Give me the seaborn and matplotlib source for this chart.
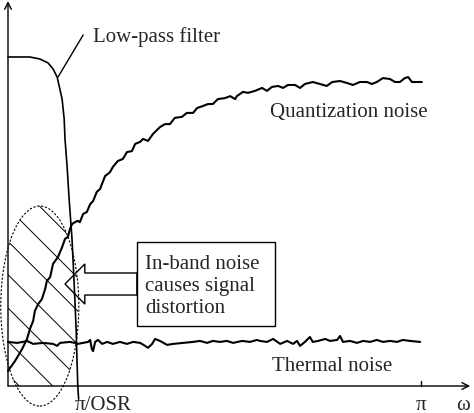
import numpy as np
import pandas as pd
import matplotlib
matplotlib.use("Agg")
import matplotlib.pyplot as plt
import seaborn as sns
from matplotlib.patches import Ellipse, Rectangle, FancyArrow

# --- Curve data (omega/pi, normalised magnitude) ---
filt_w = [0.000, 0.053, 0.077, 0.097, 0.109, 0.119, 0.131, 0.136, 0.138, 0.143,
          0.148, 0.155, 0.160, 0.165, 0.167, 0.169, 0.171]
filt_mag = [1.000, 1.000, 0.994, 0.982, 0.964, 0.939, 0.872, 0.812, 0.751, 0.669,
            0.568, 0.447, 0.316, 0.173, 0.082, 0.000, -0.040]

quant_w = [0.000, 0.017, 0.034, 0.046, 0.053, 0.061, 0.065, 0.073, 0.082, 0.090,
           0.094, 0.102, 0.109, 0.121, 0.131, 0.138, 0.145, 0.150, 0.155, 0.162,
           0.169, 0.174, 0.182, 0.191, 0.199, 0.206, 0.215, 0.223, 0.235, 0.247,
           0.254, 0.266, 0.278, 0.288, 0.300, 0.308, 0.320, 0.327, 0.339, 0.351,
           0.368, 0.380, 0.392, 0.404, 0.421, 0.433, 0.448, 0.458, 0.472, 0.484,
           0.496, 0.508, 0.525, 0.538, 0.550, 0.554, 0.569, 0.581, 0.598, 0.615,
           0.627, 0.639, 0.654, 0.666, 0.678, 0.695, 0.707, 0.719, 0.738, 0.755,
           0.772, 0.785, 0.804, 0.821, 0.835, 0.852, 0.869, 0.881, 0.893, 0.908,
           0.925, 0.937, 0.949, 0.961, 0.969, 0.978, 1.002]
quant_mag = [0.046, 0.076, 0.112, 0.143, 0.173, 0.198, 0.228, 0.249, 0.264, 0.295,
             0.319, 0.331, 0.371, 0.392, 0.422, 0.447, 0.453, 0.477, 0.492, 0.498,
             0.502, 0.498, 0.523, 0.529, 0.553, 0.562, 0.590, 0.599, 0.638, 0.650,
             0.666, 0.684, 0.690, 0.711, 0.714, 0.736, 0.742, 0.751, 0.745, 0.766,
             0.787, 0.796, 0.796, 0.815, 0.818, 0.830, 0.830, 0.845, 0.851, 0.857,
             0.857, 0.872, 0.875, 0.881, 0.872, 0.881, 0.894, 0.891, 0.897, 0.906,
             0.897, 0.909, 0.912, 0.906, 0.915, 0.915, 0.906, 0.918, 0.924, 0.918,
             0.912, 0.924, 0.927, 0.921, 0.915, 0.924, 0.924, 0.918, 0.924, 0.936,
             0.933, 0.924, 0.924, 0.936, 0.939, 0.924, 0.924]

therm_w = [0.000, 0.022, 0.036, 0.046, 0.061, 0.085, 0.109, 0.119, 0.126, 0.150,
           0.162, 0.169, 0.194, 0.199, 0.203, 0.206, 0.211, 0.218, 0.228, 0.240,
           0.254, 0.271, 0.288, 0.303, 0.320, 0.332, 0.339, 0.349, 0.356, 0.368,
           0.385, 0.400, 0.424, 0.448, 0.465, 0.482, 0.496, 0.513, 0.530, 0.545,
           0.567, 0.586, 0.603, 0.610, 0.627, 0.642, 0.659, 0.676, 0.690, 0.700,
           0.707, 0.719, 0.731, 0.738, 0.751, 0.768, 0.780, 0.797, 0.804, 0.811,
           0.828, 0.845, 0.860, 0.877, 0.893, 0.908, 0.925, 0.942, 0.956, 0.973,
           0.998]
therm_mag = [0.134, 0.131, 0.134, 0.137, 0.128, 0.131, 0.128, 0.122, 0.131, 0.134,
             0.131, 0.128, 0.134, 0.140, 0.112, 0.106, 0.134, 0.140, 0.128, 0.134,
             0.128, 0.134, 0.128, 0.134, 0.131, 0.122, 0.116, 0.128, 0.143, 0.137,
             0.125, 0.128, 0.131, 0.134, 0.137, 0.131, 0.137, 0.134, 0.137, 0.131,
             0.137, 0.134, 0.140, 0.137, 0.134, 0.143, 0.128, 0.137, 0.128, 0.137,
             0.122, 0.134, 0.149, 0.134, 0.137, 0.143, 0.137, 0.140, 0.152, 0.134,
             0.137, 0.131, 0.137, 0.134, 0.140, 0.134, 0.137, 0.134, 0.140, 0.137,
             0.134]

# --- Annotation geometry (same units) ---
osr_edge = 0.169          # pi/OSR
band_center = (0.077, 0.243)
band_size = (0.189, 0.608)
box_xy, box_w, box_h = (0.312, 0.182), 0.334, 0.256
arrow_tip = (0.138, 0.310)

box_text = "In-band noise\ncauses signal\ndistortion"

sns.set_theme(style="white")
plt.rcParams['font.family'] = ['Liberation Serif', 'DejaVu Serif']
plt.rcParams['hatch.linewidth'] = 0.7
plt.rcParams['hatch.color'] = 'black'

FS = 15

fig = plt.figure(figsize=(4.74, 4.14), dpi=100)
ax = fig.add_axes([0, 0, 1, 1])
ax.set_xlim(-8 / 413, 466 / 413)
ax.set_ylim(-27 / 329, 387 / 329)
ax.axis('off')

# --- Axes with arrows ---
arr = dict(arrowstyle='->', lw=1.0, color='black', shrinkA=0, shrinkB=0,
           mutation_scale=12)
ax.annotate('', xy=(0, 1.170), xytext=(0, 0), arrowprops=arr)
ax.annotate('', xy=(1.119, 0), xytext=(0, 0), arrowprops=arr)
ax.plot([1.0, 1.0], [0, 0.015], color='black', lw=1.0)

# --- Curves ---
curves = pd.concat([
    pd.DataFrame({'w': filt_w, 'mag': filt_mag, 'curve': 'filter'}),
    pd.DataFrame({'w': quant_w, 'mag': quant_mag, 'curve': 'quant'}),
    pd.DataFrame({'w': therm_w, 'mag': therm_mag, 'curve': 'therm'}),
])
for name, lw in [('filter', 1.2), ('quant', 1.5), ('therm', 1.5)]:
    sub = curves[curves['curve'] == name]
    sns.lineplot(data=sub, x='w', y='mag', ax=ax, color='black', lw=lw,
                 sort=False, estimator=None, zorder=4)

# --- Hatched in-band region ---
clip = Rectangle((0, 0), osr_edge, 1.2, transform=ax.transData)
hatch = Ellipse(band_center, *band_size, facecolor='none', edgecolor='black',
                lw=0, hatch='\\', zorder=2)
ax.add_patch(hatch)
hatch.set_clip_path(clip)
ax.add_patch(Ellipse(band_center, *band_size, fill=False, edgecolor='black',
                     lw=0.8, ls=(0, (2, 1.5)), zorder=3))

# --- Block arrow and text box ---
ax.add_patch(FancyArrow(box_xy[0], arrow_tip[1], arrow_tip[0] - box_xy[0], 0,
                        width=0.067, head_width=0.122, head_length=0.048,
                        length_includes_head=True, fc='none', ec='black',
                        lw=1.0, zorder=5))
ax.add_patch(Rectangle(box_xy, box_w, box_h, facecolor='white',
                       edgecolor='black', lw=1.0, zorder=6))
ax.text(0.332, 0.305, box_text, ha='left', va='center', fontsize=FS,
        linespacing=1.22, zorder=7)

# --- Labels ---
ax.plot([0.121, 0.182], [0.939, 1.067], color='black', lw=1.0)
ax.text(0.206, 1.064, "Low-pass filter", ha='left', va='center', fontsize=FS)
ax.text(0.634, 0.833, "Quantization noise", ha='left', va='center', fontsize=FS)
ax.text(0.639, 0.061, "Thermal noise", ha='left', va='center', fontsize=FS)
ax.text(0.162, -0.055, "π/OSR", ha='left', va='center', fontsize=FS)
ax.text(1.0, -0.055, "π", ha='center', va='center', fontsize=FS)
ax.text(1.102, -0.055, "ω", ha='center', va='center', fontsize=FS)

fig.savefig("out.png", dpi=100)
